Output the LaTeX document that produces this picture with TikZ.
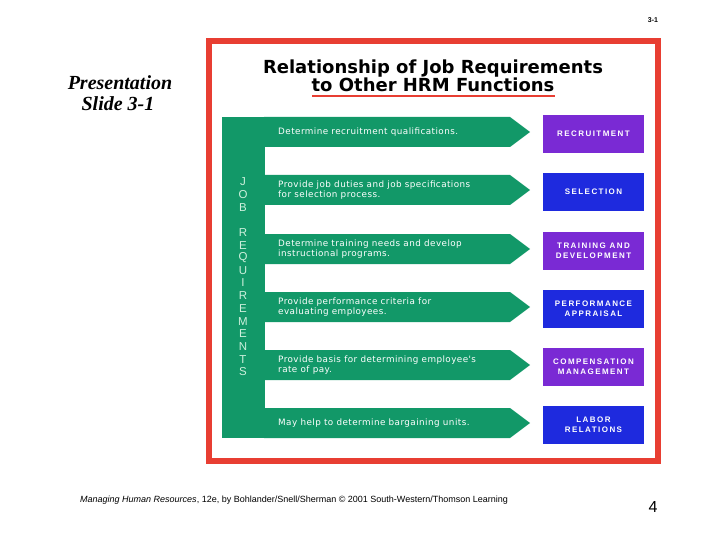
\documentclass[tikz,border=0pt]{standalone}
\usepackage{fontspec}
\setmainfont{Liberation Serif}
\newfontfamily\arialf{Liberation Sans}
\newfontfamily\dejasp{DejaVu Sans}[LetterSpace=5]
\newfontfamily\arialbsp{Liberation Sans}[LetterSpace=18]
\newfontfamily\dejat{DejaVu Sans}
\definecolor{framered}{RGB}{232,62,50}
\definecolor{jobgreen}{RGB}{18,152,104}
\definecolor{hrpurple}{RGB}{122,42,212}
\definecolor{hrblue}{RGB}{30,42,222}
\definecolor{letterpale}{RGB}{205,240,220}
\tikzset{
  greenshape/.style={fill=jobgreen, draw=none},
  arrowtext/.style={anchor=west, align=left, text=white, inner sep=0pt,
    font=\dejasp\fontsize{8.8}{10}\selectfont},
  hrbox/.style={minimum width=101pt, minimum height=38pt, inner sep=0pt,
    align=center, text=white, font=\arialbsp\bfseries\fontsize{8}{10}\selectfont},
  vletter/.style={text=letterpale, inner sep=0pt, font=\arialf\fontsize{11.5}{11.5}\selectfont},
  titlefont/.style={inner sep=0pt, anchor=base, font=\dejat\bfseries\fontsize{18}{20}\selectfont}
}
\begin{document}
\begin{tikzpicture}[x=1pt,y=-1pt]
\useasboundingbox (0,0) rectangle (720,540);
\fill[white] (0,0) rectangle (720,540);

% slide label
\node[font=\bfseries\itshape\fontsize{20}{22}\selectfont, inner sep=0pt] (pres) at (120,83) {Presentation};
\node[font=\bfseries\itshape\fontsize{20}{22}\selectfont, inner sep=0pt] (slide) at (118,104) {Slide 3-1};

% frame
\draw[framered, line width=6pt] (209,41) rectangle (658,461);
\node[font=\arialf\bfseries\fontsize{7}{8}\selectfont, inner sep=0pt] (pg) at (653,20) {3-1};

% title
\node[titlefont] (t1) at (433,74) {Relationship of Job Requirements};
\node[titlefont] (t2) at (433,92) {to Other HRM Functions};
\draw[framered, line width=2pt] (312,96.5) -- (555,96.5);

% green bar
\fill[greenshape] (222,117) rectangle (265,438);

% arrows
\foreach \yc/\txt in {132/{Determine recruitment qualifications.},
                      190/{Provide job duties and job specifications\\for selection process.},
                      249/{Determine training needs and develop\\instructional programs.},
                      307/{Provide performance criteria for\\evaluating employees.},
                      365/{Provide basis for determining employee's\\rate of pay.},
                      423/{May help to determine bargaining units.}}{
  \fill[greenshape] (264,\yc-15) -- (510,\yc-15) -- (530,\yc) -- (510,\yc+15) -- (264,\yc+15) -- cycle;
  \node[arrowtext] (a\yc) at (278,\yc) {\txt};
}

% HR boxes
\node[hrbox, fill=hrpurple] (b1) at (593.5,134) {RECRUITMENT};
\node[hrbox, fill=hrblue]   (b2) at (593.5,192) {SELECTION};
\node[hrbox, fill=hrpurple] (b3) at (593.5,251) {TRAINING AND\\DEVELOPMENT};
\node[hrbox, fill=hrblue]   (b4) at (593.5,309) {PERFORMANCE\\APPRAISAL};
\node[hrbox, fill=hrpurple] (b5) at (593.5,367) {COMPENSATION\\MANAGEMENT};
\node[hrbox, fill=hrblue]   (b6) at (593.5,425) {LABOR\\RELATIONS};

% vertical letters
\foreach \ch/\yy [count=\i] in {J/182,O/195,B/208,R/233,E/245.5,Q/258,U/270.5,I/283,R/296,E/309,M/321.5,E/334,N/347,T/359.5,S/372}{
  \node[vletter] (v\i) at (243,\yy) {\ch};
}

% footer
\node[anchor=west, inner sep=0pt, font=\arialf\fontsize{9}{10}\selectfont] (foot) at (80,500)
  {\textit{Managing Human Resources}, 12e, by Bohlander/Snell/Sherman © 2001 South-Western/Thomson Learning};
\node[inner sep=0pt, font=\arialf\fontsize{16}{18}\selectfont] (num) at (653,507) {4};
\end{tikzpicture}
\end{document}
